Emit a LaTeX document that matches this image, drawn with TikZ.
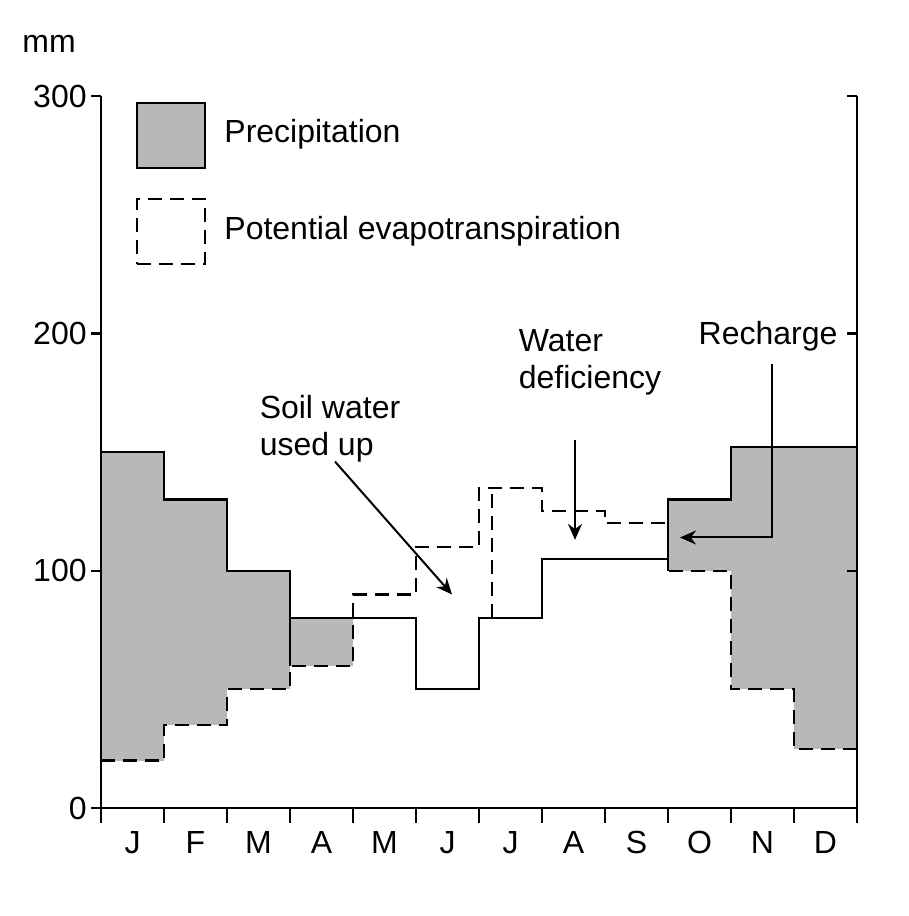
\documentclass[tikz,border=0pt]{standalone}
\usepackage{fontspec}
\setmainfont{Liberation Sans}
\usetikzlibrary{arrows.meta}
\begin{document}
\begin{tikzpicture}[x=0.5pt,y=1.1865pt,
  lab/.style={font=\fontsize{16}{18.5}\selectfont, inner sep=1pt},
  stip/.style={fill=black!28},
  pet/.style={line width=1.1pt,dash pattern=on 7pt off 4pt},
  pr/.style={line width=1.1pt},
  arr/.style={line width=1pt,-{Stealth[length=8pt,width=7pt]}}]
\useasboundingbox (0,-45.5) rectangle (908,340.5);
% shading
\foreach \a/\b/\lo/\hi in {101/164/20/150,164/227/35/130,227/290/50/100,290/353/60/80,668/731/100/130,731/794/50/152,794/857/25/152}
  \fill[stip] (\a,\lo) rectangle (\b,\hi);
% precipitation line
\draw[pr] (101,150) -- (164,150) -- (164,130) -- (227,130) -- (227,100) -- (290,100) -- (290,80) -- (416,80) -- (416,50) -- (479,50) -- (479,80) -- (542,80) -- (542,105) -- (668,105) -- (668,130) -- (731,130) -- (731,152) -- (857,152);
\draw[pr] (668,100) -- (668,105);
\draw[pr] (290,60) -- (290,80);
% PET
\draw[pet] (101,20) -- (164,20) -- (164,35) -- (227,35) -- (227,50) -- (290,50) -- (290,60) -- (353,60) -- (353,90) -- (416,90) -- (416,110) -- (479,110) -- (479,135) -- (542,135) -- (542,125) -- (605,125) -- (605,120) -- (668,120) -- (668,100) -- (731,100) -- (731,50) -- (794,50) -- (794,25) -- (857,25);
\draw[pet] (492,80) -- (492,135);
% axes
\draw[line width=1.2pt] (101,300) -- (101,0) -- (857,0) -- (857,300);
\foreach \v/\t in {0/0,100/100,200/200,300/300}{
  \draw[line width=1.2pt] (91,\v) -- (101,\v);
  \node[lab,anchor=east] (yl\v) at (89,\v) {\t};}
\foreach \v in {100,200,300} \draw[line width=1.2pt] (857,\v) -- (847,\v);
\foreach \i in {0,...,12} \draw[line width=1.2pt] (101+63*\i,0) -- (101+63*\i,-6.3);
\foreach \m [count=\i from 0] in {J,F,M,A,M,J,J,A,S,O,N,D}
  \node[lab] (m\i) at (132.5+63*\i,-14.7) {\m};
\node[lab] (mm) at (49,322) {mm};
% legend
\node[stip,draw,line width=1.1pt,minimum width=34pt,minimum height=32.5pt,inner sep=0pt] (lp) at (171,283.5) {};
\node[lab,anchor=west] (lpt) at (222,284) {Precipitation};
\node[pet,draw,minimum width=34pt,minimum height=32.5pt,inner sep=0pt] (le) at (171,243) {};
\node[lab,anchor=west] (let) at (222,243) {Potential evapotranspiration};
% annotations
\node[lab,align=left] (sw) at (330,160) {Soil water\\used up};
\coordinate (swt) at (452,90);
\draw[arr] (335,146) -- (swt);
\node[lab,align=left] (wd) at (590,188) {Water\\deficiency};
\coordinate (wdt) at (575,113);
\draw[arr] (575,155) -- (wdt);
\node[lab] (rc) at (768,199) {Recharge};
\coordinate (rct) at (680,114);
\draw[arr] (772,187) -- (772,114) -- (rct);
\end{tikzpicture}
\end{document}
